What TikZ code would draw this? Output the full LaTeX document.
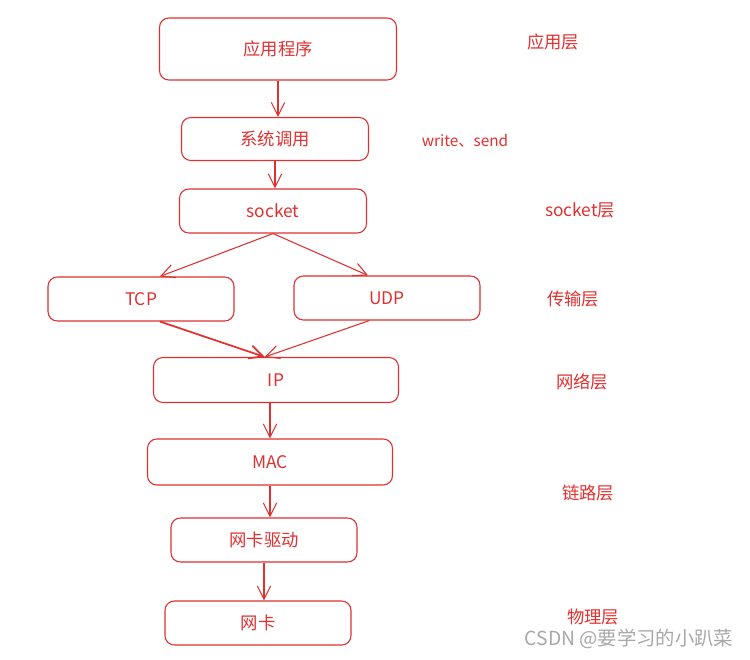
\documentclass[tikz,border=0pt]{standalone}
\usepackage{fontspec}
\setmainfont{Noto Sans CJK SC}
\usetikzlibrary{arrows.meta}
\definecolor{pen}{HTML}{E03131}
\definecolor{wmark}{HTML}{A8A8A8}
\newcommand{\boxfont}{\fontsize{13}{15}\selectfont}
\newcommand{\sidefont}{\fontsize{13}{15}\selectfont}

\begin{document}
\begin{tikzpicture}[x=0.75pt,y=-0.75pt,
  box/.style={draw=pen, text=pen, line width=0.8pt, rounded corners=7pt,
    inner sep=0pt, font=\boxfont},
  arr/.style={draw=pen, line width=0.8pt, -{Straight Barb[length=10pt,width=10pt]}},
  side/.style={text=pen, font=\sidefont}]
  \fill[white] (0,0) rectangle (750,660);
  \useasboundingbox (0,0) rectangle (750,660);

  % Stack of boxes, top to bottom.
  \node[box, minimum width=177.75pt, minimum height=46.5pt] (app) at (278,49) {应用程序};
  \node[box, minimum width=140.25pt, minimum height=32.25pt] (sys) at (275,139) {系统调用};
  \node[box, minimum width=140.25pt, minimum height=33pt] (sock) at (273,211) {socket};
  \node[box, minimum width=139.5pt, minimum height=33pt] (tcp) at (141,299) {TCP};
  \node[box, minimum width=139.5pt, minimum height=33pt] (udp) at (387,298) {UDP};
  \node[box, minimum width=183.75pt, minimum height=33.75pt] (ip) at (276,380) {IP};
  \node[box, minimum width=183.75pt, minimum height=34.5pt] (mac) at (270,462) {MAC};
  \node[box, minimum width=139.5pt, minimum height=33pt] (drv) at (264,540) {网卡驱动};
  \node[box, minimum width=139.5pt, minimum height=33pt] (nic) at (258,623) {网卡};

  % Connectors.
  \draw[arr] (app.south) -- (app.south |- sys.north);
  \draw[arr] (sys.south) -- (sys.south |- sock.north);
  \draw[arr] (sock.south) -- (tcp.50);
  \draw[arr] (sock.south) -- (udp.130);
  \draw[arr, line width=1.3pt] (tcp.-50) -- (ip.116);
  \draw[arr] (udp.232) -- (ip.116);
  \draw[arr] (ip.south -| mac.north) -- (mac.north);
  \draw[arr] (mac.south) -- (mac.south |- drv.north);
  \draw[arr] (drv.south) -- (drv.south |- nic.north);

  % Layer names on the right.
  \node[side] (l1) at (553,42) {应用层};
  \node[side, font=\fontsize{11.5}{13}\selectfont] (l2) at (465,141) {write、send};
  \node[side] (l3) at (580,210) {socket层};
  \node[side] (l4) at (573,299) {传输层};
  \node[side] (l5) at (582,382) {网络层};
  \node[side] (l6) at (588,493) {链路层};
  \node[side] (l7) at (593,617) {物理层};

  \node[text=wmark, font=\fontsize{14.5}{16}\selectfont] (wm) at (629,639) {CSDN @要学习的小趴菜};
\end{tikzpicture}
\end{document}
